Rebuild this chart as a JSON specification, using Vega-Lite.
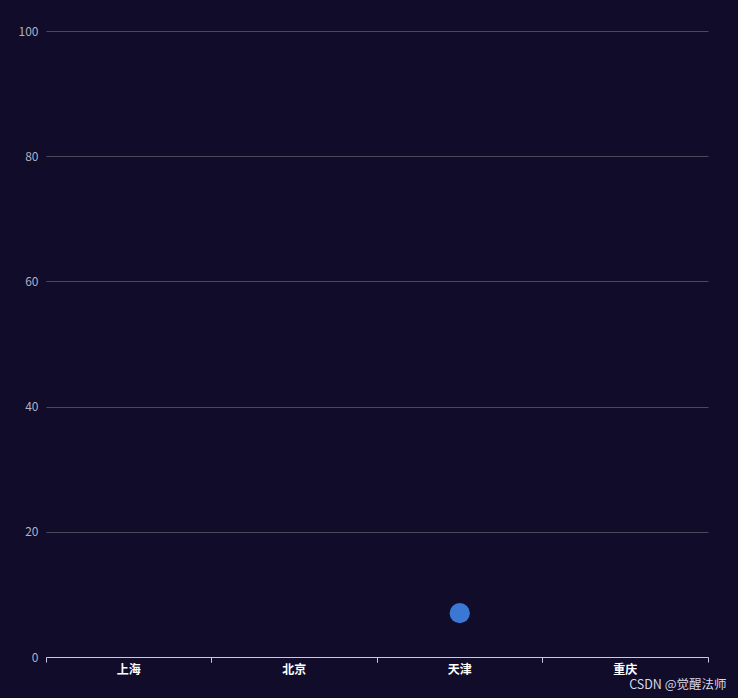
{
  "$schema": "https://vega.github.io/schema/vega-lite/v6.json",
  "width": 662,
  "height": 626,
  "autosize": "none",
  "padding": {"left": 46, "top": 31, "right": 30, "bottom": 41},
  "background": "#100c2a",
  "title": {
    "text": "CSDN @觉醒法师",
    "orient": "bottom",
    "anchor": "end",
    "fontSize": 12.5,
    "fontWeight": "normal",
    "color": "#d8d8e8",
    "font": "Noto Sans CJK SC",
    "offset": 4,
    "dx": 18
  },
  "data": {
    "values": [
      {"city": "上海", "value": null},
      {"city": "北京", "value": null},
      {"city": "天津", "value": 7},
      {"city": "重庆", "value": null}
    ]
  },
  "layer": [
    {
      "mark": {"type": "point", "filled": true, "size": 410, "color": "#3b78d4", "opacity": 1},
      "encoding": {
        "x": {
          "field": "city",
          "type": "nominal",
          "sort": null,
          "scale": {"type": "band", "domain": ["上海", "北京", "天津", "重庆"], "paddingInner": 0, "paddingOuter": 0},
          "axis": {
            "orient": "bottom",
            "title": null,
            "labelAngle": 0,
            "labelColor": "#ffffff",
            "labelFontWeight": "bold",
            "labelFontSize": 12,
            "labelFont": "Noto Sans CJK SC",
            "labelPadding": 2,
            "domainColor": "#c8c8e0",
            "tickColor": "#c8c8e0",
            "tickSize": 5,
            "bandPosition": 0,
            "grid": false
          }
        },
        "y": {
          "field": "value",
          "type": "quantitative",
          "scale": {"domain": [0, 100]},
          "axis": {
            "title": null,
            "values": [0, 20, 40, 60, 80, 100],
            "domain": false,
            "ticks": false,
            "labelColor": "#b0b0c4",
            "labelFontSize": 12,
            "labelFont": "Noto Sans CJK SC",
            "labelPadding": 8,
            "gridColor": "#4a4a5c",
            "gridWidth": 1
          }
        }
      }
    },
    {
      "mark": {"type": "point", "opacity": 0},
      "encoding": {
        "x": {
          "field": "city",
          "type": "nominal",
          "sort": null,
          "axis": {
            "orient": "bottom",
            "title": null,
            "labels": false,
            "domain": false,
            "tickColor": "#c8c8e0",
            "tickSize": 5,
            "bandPosition": 1,
            "grid": false
          }
        }
      }
    }
  ],
  "resolve": {"axis": {"x": "independent"}},
  "config": {"view": {"stroke": null}}
}
